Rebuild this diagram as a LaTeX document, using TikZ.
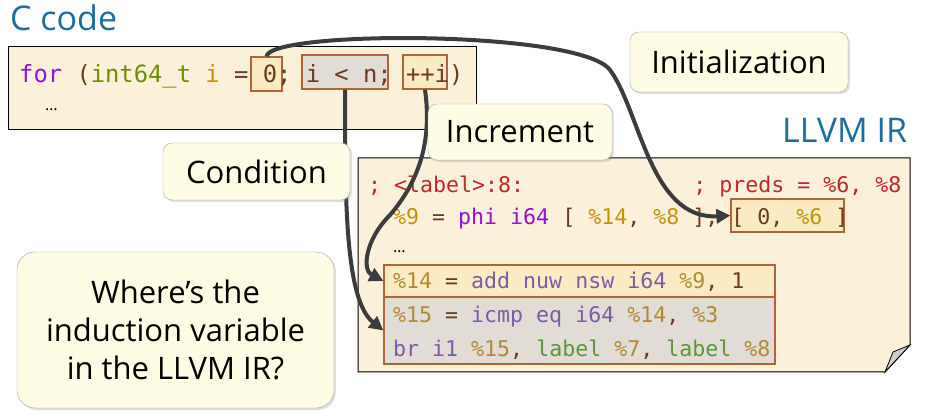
\documentclass[tikz,border=0pt]{standalone}
\usepackage{fontspec}
\setmainfont{Open Sans}
\setmonofont{DejaVu Sans Mono}
\usetikzlibrary{arrows.meta,shadows}
\definecolor{paper}{HTML}{FBF0D9}
\definecolor{callfill}{HTML}{FFFCE6}
\definecolor{titleblue}{HTML}{1A6FA0}
\definecolor{kwpur}{HTML}{9B10D8}
\definecolor{tygreen}{HTML}{6E8F00}
\definecolor{vargold}{HTML}{C8920A}
\definecolor{brn}{HTML}{6B3A1F}
\definecolor{cmred}{HTML}{C0282A}
\definecolor{irtan}{HTML}{B08A35}
\definecolor{irpur}{HTML}{7A5EA5}
\definecolor{irgreen}{HTML}{5E963A}
\definecolor{hlbord}{HTML}{B0643A}
\definecolor{hlgray}{HTML}{E2DCD6}
\definecolor{hlyel}{HTML}{FBEBC4}
\definecolor{arrowc}{HTML}{3C3C3C}
\tikzset{
  code/.style={font=\fontsize{23.8}{24}\ttfamily, inner sep=0pt, anchor=base west},
  ircode/.style={font=\fontsize{21.6}{22}\ttfamily, inner sep=0pt, anchor=base west},
  title/.style={font=\fontsize{34}{34}\selectfont, text=titleblue, inner sep=0pt, anchor=base west},
  callout/.style={draw=gray!70, fill=callfill, rounded corners=9pt, drop shadow={opacity=0.25,shadow xshift=2pt,shadow yshift=-2pt}, font=\fontsize{31}{38}\selectfont, align=center},
  hl/.style={draw=hlbord, line width=1.2pt},
  arr/.style={draw=arrowc, line width=4pt, -{Triangle[length=14pt,width=14pt]}},
}
\begin{document}
\begin{tikzpicture}[x=1pt,y=-1pt]
\useasboundingbox (0,0) rectangle (926,419);
\fill[white] (0,0) rectangle (926,419);
% C code
\node[title] (ctitle) at (10,31) {C code};
\draw[fill=paper, line width=1pt] (8,47) rectangle (476,130);
\node[hl, fill=hlyel, minimum width=31, minimum height=34, inner sep=0pt] (zero) at (266.5,74) {};
\node[hl, fill=hlgray, minimum width=86, minimum height=34, inner sep=0pt] (cond) at (345,72) {};
\node[hl, fill=hlyel, minimum width=44, minimum height=34, inner sep=0pt] (inc) at (425,72) {};
\node[code] (cline) at (19,83) {\textcolor{kwpur}{for} \textcolor{brn}{(}\textcolor{tygreen}{int64\_t} \textcolor{vargold}{i} \textcolor{brn}{=} \textcolor{brn}{0;} \textcolor{brn}{i < n;} \textcolor{brn}{++i)}};
\node[code,font=\fontsize{16}{16}\selectfont] (cdots) at (45,111) {…};
% IR
\node[title] (irtitle) at (782,143) {LLVM IR};
\draw[fill=paper, line width=1pt] (358,158) -- (910,158) -- (910,345) -- (885,372) -- (358,372) -- cycle;
\draw[fill=gray!40, line width=0.8pt] (910,345) -- (893,352) -- (885,372) -- cycle;
\node[hl, fill=hlyel, minimum width=113, minimum height=33, inner sep=0pt] (init) at (787.5,215.5) {};
\node[hl, fill=hlyel, minimum width=391, minimum height=32, inner sep=0pt] (addbox) at (579.5,281) {};
\node[hl, fill=hlgray, minimum width=391, minimum height=67, inner sep=0pt] (cmpbox) at (579.5,330.5) {};
\node[ircode, text=cmred] (l1) at (368,193) {; <label>:8:\ \ \ \ \ \ \ \ \ \ \ \ \ ; preds = \%6, \%8};
\node[ircode] (l2) at (393,225) {\textcolor{vargold}{\%9} \textcolor{brn}{=} \textcolor{kwpur}{phi i64} \textcolor{brn}{[} \textcolor{vargold}{\%14}\textcolor{brn}{,} \textcolor{vargold}{\%8} \textcolor{brn}{],} \textcolor{brn}{[} \textcolor{brn}{0,} \textcolor{vargold}{\%6} \textcolor{brn}{]}};
\node[ircode,font=\fontsize{16}{16}\selectfont] (l3) at (393,253) {…};
\node[ircode] (l4) at (393,289) {\textcolor{irtan}{\%14} \textcolor{brn}{=} \textcolor{irpur}{add nuw nsw i64} \textcolor{irtan}{\%9}\textcolor{brn}{,} \textcolor{brn}{1}};
\node[ircode] (l5) at (393,323) {\textcolor{irtan}{\%15} \textcolor{brn}{=} \textcolor{irpur}{icmp eq i64} \textcolor{irtan}{\%14}\textcolor{brn}{,} \textcolor{irtan}{\%3}};
\node[ircode] (l6) at (393,356) {\textcolor{irpur}{br i1} \textcolor{irtan}{\%15}\textcolor{brn}{,} \textcolor{irgreen}{label} \textcolor{irtan}{\%7}\textcolor{brn}{,} \textcolor{irgreen}{label} \textcolor{irtan}{\%8}};
% arrows
\draw[arr] (zero.north) .. controls (270,30) and (580,30) .. (610,70) .. controls (640,110) and (650,220) .. (init.west);
\draw[arr] (cond.south) .. controls (345,200) and (345,300) .. (cmpbox.west);
\draw[arr] (inc.south) .. controls (432,140) and (420,180) .. (390,215) .. controls (365,240) and (362,270) .. (addbox.west);
% callouts
\node[callout, minimum width=218, minimum height=60] (cinit) at (739,62) {Initialization};
\node[callout, minimum width=184, minimum height=56] (cinc) at (520,132) {Increment};
\node[callout, minimum width=187, minimum height=57] (ccond) at (256.5,171.5) {Condition};
\node[callout, minimum width=317, minimum height=156, rounded corners=18pt, font=\fontsize{31}{38}\selectfont] (q) at (175.5,330) {Where’s the\\induction variable\\in the LLVM IR?};
\end{tikzpicture}
\end{document}
